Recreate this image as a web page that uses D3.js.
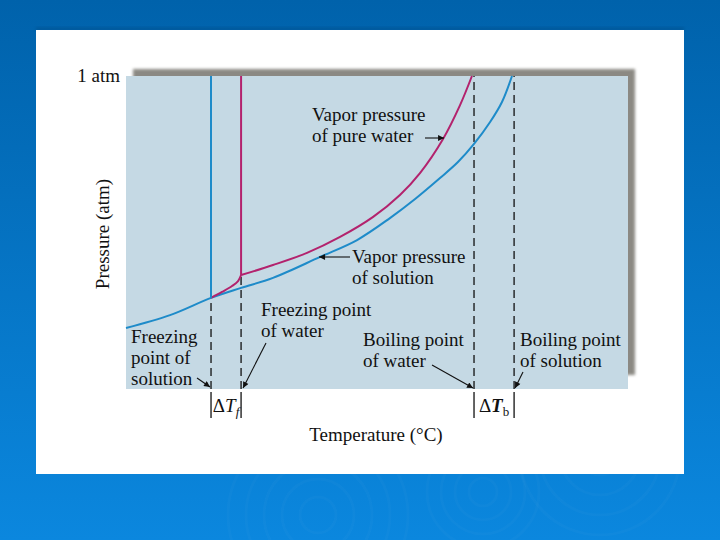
<!DOCTYPE html>
<html>
<head>
<meta charset="utf-8">
<script src="https://d3js.org/d3.v7.min.js"></script>
<style>
  body { margin: 0; }
  svg text { font-family: "Liberation Serif", "DejaVu Serif", serif; fill: #111; }
</style>
</head>
<body>
<svg width="720" height="540"></svg>
<script>
// temperatures in degC (schematic), pressures in atm
var solutionT = [-49.4, -30.5, -12.9, 0, 13.7, 33.9, 49.8, 63.9, 74.7, 85.4, 93.1, 100, 106.9, 112.0, 116.3];
var solutionP = [0.195, 0.236, 0.291, 0.323, 0.355, 0.422, 0.476, 0.546, 0.607, 0.674, 0.725, 0.783, 0.853, 0.917, 1.0];

var waterT = [0, 13.7, 28.3, 42.5, 56.7, 68.2, 76.8, 86.7, 94.0, 99.1];
var waterP = [0.364, 0.396, 0.435, 0.486, 0.550, 0.620, 0.690, 0.799, 0.907, 1.0];

var iceT = [-12.9, -8.2, -3.9, -1.3, 0];
var iceP = [0.291, 0.310, 0.329, 0.345, 0.364];

// freezing / boiling points: [temperature, pressure where curve starts]
var fpSolution = [-12.9, 0.291];
var fpWater = [0, 0.364];
var bpWater = 100;
var bpSolution = 117.2;

var tDomain = [-49.4, 166.1];
var pDomain = [0, 1];

var blue = "#1e8bc9", magenta = "#b3226d";

var svg = d3.select("svg");

var defs = svg.append("defs");
var grad = defs.append("linearGradient").attr("id", "bg").attr("x1", 0).attr("y1", 0).attr("x2", 0).attr("y2", 1);
grad.append("stop").attr("offset", "0%").attr("stop-color", "#0062ab");
grad.append("stop").attr("offset", "100%").attr("stop-color", "#0b87de");
defs.append("filter").attr("id", "blur").append("feGaussianBlur").attr("stdDeviation", 1.6);
defs.append("marker")
    .attr("id", "arrow")
    .attr("viewBox", "0 0 10 10")
    .attr("refX", 10).attr("refY", 5)
    .attr("markerWidth", 9).attr("markerHeight", 6)
    .attr("markerUnits", "userSpaceOnUse")
    .attr("orient", "auto")
  .append("path").attr("d", "M0,0 L10,5 L0,10 z").attr("fill", "#111");

// slide background
svg.append("rect").attr("width", 720).attr("height", 540).attr("fill", "url(#bg)");
var ripples = [[318, 515, [18, 36, 54, 72, 90]], [483, 492, [14, 28, 42, 56]], [600, 455, [20, 40, 60, 80]]];
ripples.forEach(function(r) {
  r[2].forEach(function(rad) {
    svg.append("circle").attr("cx", r[0]).attr("cy", r[1]).attr("r", rad)
      .attr("fill", "none").attr("stroke", "#ffffff").attr("stroke-opacity", 0.025).attr("stroke-width", 3);
  });
});
svg.append("rect").attr("x", 36).attr("y", 27).attr("width", 648).attr("height", 4).attr("fill", "#00508c").attr("opacity", 0.5).attr("filter", "url(#blur)");
svg.append("rect").attr("x", 36).attr("y", 30).attr("width", 648).attr("height", 444).attr("fill", "#ffffff");

var pLeft = 126, pRight = 628, pTop = 76, pBottom = 389;
var x = d3.scaleLinear().domain(tDomain).range([pLeft, pRight]);
var y = d3.scaleLinear().domain(pDomain).range([pBottom, pTop]);

// plot panel with shadow
svg.append("rect").attr("x", pLeft + 7).attr("y", pTop - 7).attr("width", pRight - pLeft).attr("height", pBottom - pTop - 7)
  .attr("fill", "#8b8983").attr("filter", "url(#blur)");
svg.append("rect").attr("x", pLeft).attr("y", pTop).attr("width", pRight - pLeft).attr("height", pBottom - pTop).attr("fill", "#c5d9e4");

// dashed guides
var dashes = [[fpSolution[0], fpSolution[1]], [fpWater[0], fpWater[1]], [bpWater, 1], [bpSolution, 1]];
svg.selectAll("line.dash").data(dashes).enter().append("line")
  .attr("class", "dash")
  .attr("x1", function(d) { return x(d[0]); }).attr("x2", function(d) { return x(d[0]); })
  .attr("y1", function(d) { return y(0); }).attr("y2", function(d) { return y(d[1]); })
  .attr("stroke", "#111").attr("stroke-width", 1.3).attr("stroke-dasharray", "8,5");

var line = d3.line().x(function(d) { return x(d[0]); }).y(function(d) { return y(d[1]); }).curve(d3.curveCatmullRom.alpha(0.5));

function pairs(ts, ps) { return ts.map(function(t, i) { return [t, ps[i]]; }); }

svg.append("path").datum(pairs(solutionT, solutionP)).attr("d", line)
  .attr("fill", "none").attr("stroke", blue).attr("stroke-width", 2);
svg.append("path").datum(pairs(iceT, iceP)).attr("d", line)
  .attr("fill", "none").attr("stroke", magenta).attr("stroke-width", 2);
svg.append("path").datum(pairs(waterT, waterP)).attr("d", line)
  .attr("fill", "none").attr("stroke", magenta).attr("stroke-width", 2);

// melting lines
svg.append("line").attr("x1", x(fpSolution[0])).attr("x2", x(fpSolution[0])).attr("y1", y(fpSolution[1])).attr("y2", y(1))
  .attr("stroke", blue).attr("stroke-width", 2);
svg.append("line").attr("x1", x(fpWater[0])).attr("x2", x(fpWater[0])).attr("y1", y(fpWater[1])).attr("y2", y(1))
  .attr("stroke", magenta).attr("stroke-width", 2);

// axis labels
svg.append("text").attr("x", 120).attr("y", 82).attr("text-anchor", "end").attr("font-size", 19).text("1 atm");
svg.append("text").attr("transform", "translate(109,234) rotate(-90)").attr("text-anchor", "middle")
  .attr("font-size", 19).text("Pressure (atm)");
svg.append("text").attr("x", 376).attr("y", 441).attr("text-anchor", "middle").attr("font-size", 19).text("Temperature (°C)");

// annotations
function label(lines, x0, y0) {
  var t = svg.append("text").attr("x", x0).attr("y", y0).attr("font-size", 19);
  lines.forEach(function(s, i) {
    t.append("tspan").attr("x", x0).attr("dy", i ? 21 : 0).text(s);
  });
}
function arrow(x1, y1, x2, y2) {
  svg.append("line").attr("x1", x1).attr("y1", y1).attr("x2", x2).attr("y2", y2)
    .attr("stroke", "#111").attr("stroke-width", 1.1).attr("marker-end", "url(#arrow)");
}

label(["Vapor pressure", "of pure water"], 312, 121);
arrow(425, 138, x(86.7) + 1, 138);
label(["Vapor pressure", "of solution"], 352, 263);
arrow(350, 257, x(33.9) - 1, 257);
label(["Freezing point", "of water"], 261, 316);
arrow(266, 343, x(fpWater[0]) + 2, 388);
label(["Freezing", "point of", "solution"], 131, 343);
arrow(197, 378, x(fpSolution[0]) - 1, 387);
label(["Boiling point", "of water"], 363, 346);
arrow(432, 365, x(bpWater) - 1, 388);
label(["Boiling point", "of solution"], 520, 346);
arrow(523, 372, x(bpSolution) + 1, 388);

// delta brackets
var brackets = [[fpSolution[0], fpWater[0], "f", true], [bpWater, bpSolution, "b", false]];
brackets.forEach(function(b) {
  [b[0], b[1]].forEach(function(t) {
    svg.append("line").attr("x1", x(t)).attr("x2", x(t)).attr("y1", 392).attr("y2", 418)
      .attr("stroke", "#111").attr("stroke-width", 1.3);
  });
  var t = svg.append("text").attr("x", (x(b[0]) + x(b[1])) / 2).attr("y", 412)
    .attr("text-anchor", "middle").attr("font-size", 19);
  t.append("tspan").text("Δ");
  t.append("tspan").attr("font-style", "italic").attr("font-weight", b[3] ? "normal" : "bold").text("T");
  t.append("tspan").attr("font-size", 13).attr("dy", 4).attr("font-style", b[3] ? "italic" : "normal").text(b[2]);
});
</script>
</body>
</html>
